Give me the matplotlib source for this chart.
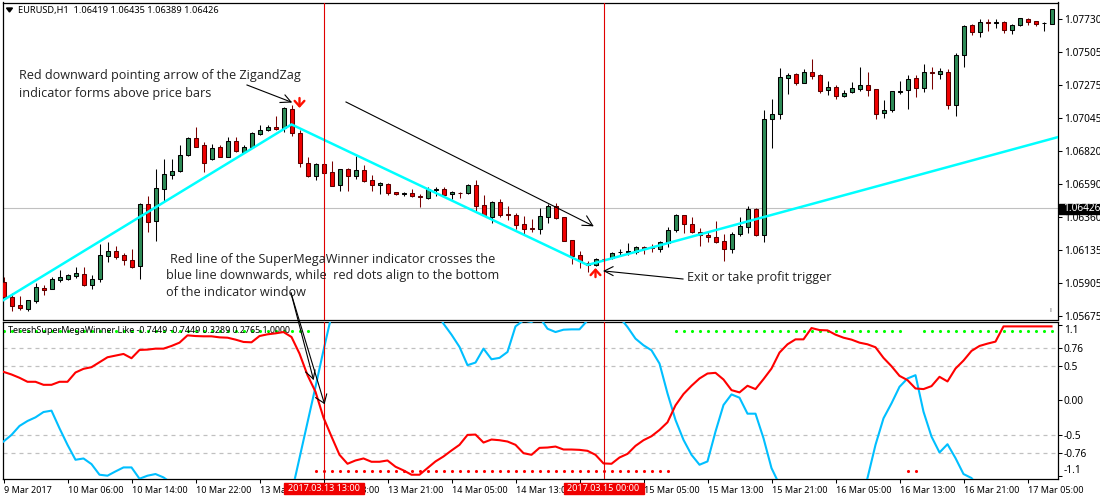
import matplotlib
matplotlib.use('Agg')
import matplotlib.pyplot as plt
import numpy as np
from matplotlib.patches import Rectangle

W, H = 1100, 500

# candles, price in points (106419 = 1.06419)
OPEN = [105912, 105808, 105750, 105725, 105780, 105868, 105859, 105926, 105933, 105951,
        105963, 105891, 105928, 106092, 106122, 106095, 106060, 106018, 106448, 106330,
        106557, 106654, 106677, 106792, 106908, 106857, 106764, 106843, 106778, 106885,
        106813, 106843, 106938, 106961, 106984, 106975, 107106, 106940, 106732, 106642,
        106725, 106670, 106580, 106691, 106647, 106684, 106614, 106580, 106589, 106531,
        106520, 106524, 106503, 106494, 106550, 106552, 106517, 106529, 106524, 106580,
        106441, 106362, 106462, 106381, 106372, 106309, 106282, 106279, 106362, 106434,
        106358, 106198, 106095, 106039, 106025, 106067, 106074, 106115, 106115, 106120,
        106150, 106150, 106136, 106182, 106268, 106372, 106309, 106254, 106233, 106219,
        106192, 106141, 106245, 106293, 106413, 106238, 107037, 107072, 107326, 107349,
        107291, 107363, 107342, 107243, 107259, 107201, 107224, 107250, 107273, 107245,
        107083, 107099, 107229, 107238, 107321, 107252, 107363, 107353, 107363, 107134,
        107485, 107688, 107645, 107709, 107702, 107712, 107658, 107688, 107730, 107716,
        107705, 107700]
HIGH = [105942, 105836, 105813, 105785, 105905, 105889, 105942, 105993, 105965, 106011,
        106011, 105958, 106171, 106185, 106157, 106113, 106138, 106455, 106506, 106693,
        106762, 106762, 106859, 106917, 106986, 106882, 106866, 106861, 106915, 106915,
        106859, 106949, 106995, 106995, 107060, 107120, 107134, 106963, 106774, 106732,
        106732, 106746, 106691, 106697, 106783, 106721, 106651, 106603, 106596, 106536,
        106536, 106552, 106517, 106570, 106570, 106568, 106538, 106536, 106587, 106614,
        106510, 106469, 106483, 106436, 106386, 106367, 106346, 106420, 106450, 106457,
        106358, 106198, 106122, 106058, 106074, 106074, 106118, 106138, 106178, 106159,
        106157, 106173, 106196, 106289, 106379, 106374, 106358, 106282, 106254, 106335,
        106240, 106259, 106358, 106436, 106420, 107102, 107178, 107393, 107356, 107356,
        107386, 107455, 107351, 107303, 107275, 107240, 107296, 107397, 107365, 107250,
        107171, 107236, 107303, 107344, 107344, 107420, 107400, 107390, 107384, 107497,
        107691, 107695, 107732, 107732, 107732, 107721, 107698, 107737, 107737, 107721,
        107712, 107799]
LOW = [105808, 105711, 105716, 105711, 105767, 105820, 105859, 105910, 105924, 105937,
       105884, 105864, 105912, 106048, 106071, 106028, 106009, 105933, 106259, 106194,
       106469, 106626, 106672, 106785, 106848, 106672, 106755, 106774, 106774, 106811,
       106811, 106838, 106931, 106954, 106963, 106947, 106922, 106704, 106635, 106617,
       106658, 106575, 106540, 106540, 106626, 106605, 106540, 106520, 106515, 106510,
       106506, 106501, 106429, 106487, 106508, 106508, 106485, 106492, 106520, 106404,
       106367, 106316, 106362, 106339, 106275, 106242, 106259, 106242, 106319, 106346,
       106196, 106034, 106007, 105979, 106021, 106034, 106071, 106090, 106099, 106104,
       106104, 106120, 106120, 106155, 106254, 106247, 106247, 106159, 106189, 106178,
       106058, 106113, 106231, 106252, 106229, 106189, 106841, 107042, 107213, 107277,
       107291, 107319, 107222, 107206, 107178, 107194, 107222, 107236, 107201, 107042,
       107046, 107088, 107215, 107109, 107192, 107226, 107247, 107319, 107109, 107060,
       107400, 107621, 107610, 107649, 107672, 107635, 107628, 107686, 107691, 107686,
       107651, 107700]
CLOSE = [105808, 105746, 105732, 105783, 105873, 105857, 105931, 105942, 105956, 105970,
         105891, 105928, 106095, 106122, 106083, 106060, 106016, 106448, 106328, 106559,
         106656, 106677, 106788, 106908, 106848, 106732, 106836, 106778, 106885, 106815,
         106843, 106940, 106961, 106984, 106968, 107113, 106945, 106732, 106642, 106727,
         106663, 106577, 106691, 106647, 106684, 106612, 106580, 106596, 106524, 106517,
         106524, 106508, 106499, 106552, 106554, 106515, 106531, 106527, 106580, 106439,
         106376, 106462, 106376, 106376, 106307, 106279, 106275, 106365, 106434, 106353,
         106196, 106092, 106053, 106028, 106067, 106071, 106111, 106120, 106122, 106150,
         106141, 106145, 106185, 106268, 106372, 106309, 106254, 106235, 106219, 106189,
         106141, 106240, 106296, 106413, 106235, 107037, 107072, 107328, 107347, 107291,
         107363, 107340, 107236, 107259, 107201, 107222, 107252, 107273, 107243, 107076,
         107099, 107231, 107233, 107319, 107252, 107363, 107356, 107370, 107139, 107481,
         107684, 107645, 107709, 107705, 107709, 107658, 107688, 107737, 107714, 107700,
         107707, 107799]

# zigzag pivots: bar, price in points
ZIG_BARS = [0, 36, 73, 132]
ZIG_PRICE = [105785, 107002, 106028, 106917]

ARROW_DOWN = (37, 107185, 107116)
ARROW_UP = (74, 105944, 106007)

BID = 1.06426
PRICE_TICKS = [1.07730, 1.07505, 1.07275, 1.07045, 1.06820, 1.06590, 1.06360, 1.06135, 1.05905, 1.05675]

# SuperMegaWinner lines
RED_LINE = [.414, .376, .328, .270, .270, .226, .226, .270, .270, .405,
            .458, .482, .554, .626, .650, .674, .612, .732, .737, .751,
            .751, .790, .838, .944, .934, .930, .930, .915, .910, .882,
            .848, .843, .934, .959, .973, .992, .920, .679, .366, .125,
            -.250, -.525, -.790, -.920, -.872, -.843, -.891, -.891, -.872, -.963,
            -1.016, -1.079, -1.079, -.983, -.886, -.814, -.727, -.645, -.501, -.496,
            -.612, -.568, -.578, -.597, -.645, -.766, -.790, -.689, -.684, -.670,
            -.713, -.713, -.718, -.732, -.790, -.915, -.920, -.829, -.776, -.660,
            -.578, -.520, -.429, -.318, -.072, .092, .212, .318, .390, .400,
            .303, .149, .116, .212, .164, .308, .462, .694, .814, .886,
            .886, 1.050, 1.021, 1.016, .954, .910, .882, .838, .814, .771,
            .617, .496, .356, .294, .173, .164, .207, .342, .275, .462,
            .578, .718, .790, .824, .853, 1.074, 1.074, 1.074, 1.074, 1.074,
            1.074, 1.074]
BLUE_LINE = [-.597, -.501, -.371, -.299, -.246, -.169, -.149, -.405, -.645, -.862,
             -.843, -.925, -1.079, -1.093, -1.031, -.973, -.973, -1.137, -1.093, -1.069,
             -1.118, -1.2, -1.3, -1.35, -1.4, -1.4, -1.45, -1.45, -1.4, -1.4,
             -1.4, -1.45, -1.5, -1.5, -1.6, -1.87, -1.354, -.838, -.318, .197,
             .727, 1.233, 1.3, 1.4, 1.45, 1.5, 1.5, 1.5, 1.5, 1.45,
             1.45, 1.4, 1.35, 1.3, 1.329, 1.113, .954, .776, .511, .549,
             .751, .597, .617, .703, 1.074, 1.161, 1.137, 1.209, 1.040, .992,
             1.026, 1.031, 1.031, 1.161, 1.281, 1.329, 1.329, 1.209, 1.065, .896,
             .800, .727, .535, .101, -.284, -.573, -.790, -.934, -.886, -.453,
             -.067, .087, .039, -.193, -.193, -.549, -.983, -1.224, -1.4, -1.5,
             -1.6, -1.6, -1.6, -1.6, -1.6, -1.5, -1.5, -1.464, -1.127, -.645,
             -.260, -.043, .197, .318, .366, -.164, -.525, -.756, -.636, -.838,
             -1.069, -1.127, -1.272, -1.3, -1.35, -1.4, -1.4, -1.45, -1.45, -1.45,
             -1.45, -1.45]

GREEN_DOTS = list(range(0, 39)) + list(range(84, 113)) + list(range(115, 132))
RED_DOTS = list(range(39, 84)) + [113, 114]
DOT_TOP = 1.01
DOT_BOTTOM = -1.026

LEVELS = [0.76, 0.5, -0.5, -0.76]
PANE_TICKS = [1.1, 0.76, 0.5, 0.0, -0.5, -0.76, -1.1]
PANE_LABELS = ['1.1', '0.76', '0.5', '0.00', '-0.5', '-0.76', '-1.1']

TIME_BARS = list(range(0, 129, 8))
TIME_LABELS = ['9 Mar 2017', '10 Mar 06:00', '10 Mar 14:00', '10 Mar 22:00', '13 Mar 05:00',
               '13 Mar 13:00', '13 Mar 21:00', '14 Mar 05:00', '14 Mar 13:00', '14 Mar 21:00',
               '15 Mar 05:00', '15 Mar 13:00', '15 Mar 21:00', '16 Mar 05:00', '16 Mar 13:00',
               '16 Mar 21:00', '17 Mar 05:00']
CROSS_BARS = [40, 75]
CROSS_LABELS = ['2017.03.13 13:00', '2017.03.15 00:00']

GREEN = '#2e8b57'
RED = '#f00000'
FONT = 'Noto Sans'
FS = 7.3
NOTE_FONT = 'Open Sans'
NOTE_FS = 9.12

plt.rcParams['font.family'] = FONT


def px_box(l, t, r, b):
  return [l / W, 1 - b / H, (r - l) / W, (b - t) / H]


fig = plt.figure(figsize=(W / 100, H / 100), dpi=100, facecolor='white')
ax = fig.add_axes(px_box(2.5, 2.5, 1057.5, 319.5))
pane = fig.add_axes(px_box(2.5, 321.5, 1057.5, 479))

bars = np.arange(len(OPEN))
o, h, l, c = [np.array(a) / 1e5 for a in (OPEN, HIGH, LOW, CLOSE)]
up = c >= o

# price pane
ax.axhline(BID, color='#c0c0c0', lw=0.8, zorder=1)
ax.vlines(bars[up], l[up], h[up], color='black', lw=0.75, zorder=2)
ax.vlines(bars[~up], l[~up], h[~up], color='#7a0000', lw=0.75, zorder=2)
ax.bar(bars[up], (c - o)[up], bottom=o[up], width=0.5, color=GREEN, edgecolor='black', lw=0.75, zorder=3)
ax.bar(bars[~up], (o - c)[~up], bottom=c[~up], width=0.5, color=RED, edgecolor='#5a0000', lw=0.75, zorder=3)
ax.plot(ZIG_BARS, np.array(ZIG_PRICE) / 1e5, color='#00ffff', lw=1.8, zorder=4, solid_joinstyle='miter')
for bar, start, end in [ARROW_DOWN, ARROW_UP]:
  ax.annotate('', xy=(bar, end / 1e5), xytext=(bar, start / 1e5), zorder=5,
              arrowprops=dict(arrowstyle='->,head_length=0.55,head_width=0.5', color='#ff1000', lw=1.7,
                              shrinkA=0, shrinkB=0, mutation_scale=7))
ax.set_xlim(-0.125, 131.75)
ax.set_ylim(1.05650, 1.07847)
ax.set_xticks([])
ax.yaxis.tick_right()
ax.set_yticks(PRICE_TICKS)
ax.set_yticklabels(['%.5f' % t for t in PRICE_TICKS])

# indicator pane
for lev in LEVELS:
  pane.axhline(lev, color='#c0c0c0', lw=0.9, dashes=(3.2, 3.2), zorder=1)
pane.scatter(GREEN_DOTS, [DOT_TOP] * len(GREEN_DOTS), marker='o', s=5, color='#00ff00', lw=0, zorder=2)
pane.text(0.005, 0.945, 'TereshSuperMegaWinner Like -0.7449 -0.7449 0.3289 0.2765 1.0000', transform=pane.transAxes,
          fontsize=6.4, color='black', va='center', ha='left', zorder=3)
pane.scatter(RED_DOTS, [DOT_BOTTOM] * len(RED_DOTS), marker='o', s=5, color='#ff0000', lw=0, zorder=3)
pane.plot(bars, BLUE_LINE, color='#00bfff', lw=1.5, zorder=4)
pane.plot(bars, RED_LINE, color='#ff0000', lw=1.5, zorder=5)
pane.set_xlim(-0.125, 131.75)
pane.set_ylim(-1.141, 1.145)
pane.yaxis.tick_right()
pane.set_yticks(PANE_TICKS)
pane.set_yticklabels(PANE_LABELS)
pane.get_yticklabels()[0].set_va('top')
pane.get_yticklabels()[-1].set_va('bottom')
pane.set_xticks(TIME_BARS)
pane.set_xticklabels(TIME_LABELS, ha='left')

for a in (ax, pane):
  for bar in CROSS_BARS:
    a.axvline(bar, color='#e00000', lw=0.8, zorder=6)
  a.tick_params(axis='both', length=3, width=0.75, pad=2, color='black')
  a.tick_params(axis='y', labelsize=FS, pad=1.5)
  a.tick_params(axis='x', labelsize=6.5)
  for s in a.spines.values():
    s.set_linewidth(0.9)

# overlay in image pixels: screenshot markup and the platform's boxes
over = fig.add_axes([0, 0, 1, 1], facecolor='none', zorder=10)
over.set_xlim(0, W)
over.set_ylim(H, 0)
over.axis('off')

over.fill([6.5, 12.5, 9.5], [8, 8, 12], color='black')
over.text(18, 10.5, 'EURUSD,H1  1.06419 1.06435 1.06389 1.06426', fontsize=6.65, va='center', ha='left', color='black')

# bid label
over.add_patch(Rectangle((1059, 204), 41, 9.5, color='black', zorder=5))
over.text(1063, 208.8, '%.5f' % BID, fontsize=FS, color='white', va='center', ha='left', zorder=6)

# crosshair time labels
for bar, label in zip(CROSS_BARS, CROSS_LABELS):
  x = 3.5 + 8 * bar
  over.add_patch(Rectangle((x - 40, 483), 80, 10.5, color='#f00000', zorder=5))
  over.text(x, 488.5, label, fontsize=6.5, color='white', va='center', ha='center', zorder=6)

note = dict(family=NOTE_FONT, fontsize=NOTE_FS, color='#222222', va='center', ha='left')
over.text(19, 76, 'Red downward pointing arrow of the ZigandZag', **note)
over.text(19, 93, 'indicator forms above price bars', **note)
over.text(170, 259, 'Red line of the SuperMegaWinner indicator crosses the', **note)
over.text(166, 276, 'blue line downwards, while  red dots align to the bottom', **note)
over.text(166, 293, 'of the indicator window', **note)
over.text(687, 278, 'Exit or take profit trigger', **note)

# hand drawn arrows: shaft and two barbs
arrows = [((247, 85), (291, 102), (280, 102.5), (285, 95)),
          ((346, 102), (592.7, 225.7), (582, 225.3), (586.7, 216)),
          ((683, 279), (604.3, 271), (613, 266.7), (613, 275.5)),
          ((291, 293), (313.3, 379), (305.7, 372), (315, 370)),
          ((291, 293), (324.3, 403.3), (315.7, 397.7), (326.7, 394))]
for start, tip, barb1, barb2 in arrows:
  over.plot([start[0], tip[0]], [start[1], tip[1]], color='black', lw=0.8)
  over.plot([barb1[0], tip[0], barb2[0]], [barb1[1], tip[1], barb2[1]], color='black', lw=0.8)

over.text(1050.5, 311, 'ı', fontsize=5, color='#555555', ha='center', va='center')

fig.savefig('out.png', dpi=100)
